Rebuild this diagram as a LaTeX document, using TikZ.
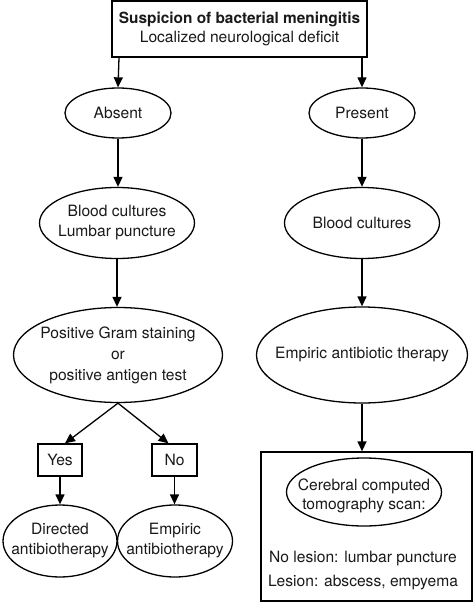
\documentclass[tikz,border=0pt]{standalone}
\usepackage{fontspec}
\setmainfont{TeX Gyre Heros}
\usetikzlibrary{shapes.geometric,arrows.meta,calc}
\begin{document}
\begin{tikzpicture}[x=1pt,y=-1pt,
  every node/.style={font=\fontsize{15.6}{20}\selectfont, text=black!90},
  ell/.style={draw, ellipse, line width=1.3pt, inner sep=0pt},
  box/.style={draw, rectangle, line width=1.3pt, inner sep=0pt},
  txt/.style={align=center, inner sep=0pt},
  arr/.style={line width=1.3pt, -{Triangle[width=9pt,length=10pt]}}
]
\useasboundingbox (0,0) rectangle (474,604);
% top box
\node[box, minimum width=255pt, minimum height=56pt] (top) at (239.5,29) {};
\node[txt, font=\fontsize{15.4}{19}\selectfont\bfseries] (t1) at (239.5,19) {Suspicion of bacterial meningitis};
\node[txt] (t2) at (239.5,38.5) {Localized neurological deficit};
% left column
\node[ell, minimum width=106pt, minimum height=50pt] (absent) at (118,113) {};
\node[txt] (absentt) at (absent.center) {Absent};
\node[ell, minimum width=155pt, minimum height=71pt] (blc) at (117,223) {};
\node[txt] (blct) at (blc.center) {Blood cultures\\Lumbar puncture};
\node[ell, minimum width=209pt, minimum height=95pt] (gram) at (118,355) {};
\node[txt, font=\fontsize{15.6}{21}\selectfont] (gramt) at (gram.center) {Positive Gram staining\\or\\positive antigen test};
\node[box, minimum width=44pt, minimum height=32pt] (yes) at (60,460) {};
\node[txt] (yest) at (yes.center) {Yes};
\node[box, minimum width=45pt, minimum height=32pt] (no) at (174.5,460) {};
\node[txt] (not) at (no.center) {No};
\node[ell, minimum width=114pt, minimum height=72pt] (dir) at (60,541) {};
\node[txt] (dirt) at (dir.center) {Directed\\antibiotherapy};
\node[ell, minimum width=115pt, minimum height=72pt] (empl) at (175,541) {};
\node[txt] (emplt) at (empl.center) {Empiric\\antibiotherapy};
% right column
\node[ell, minimum width=106pt, minimum height=50pt] (present) at (362,113) {};
\node[txt] (presentt) at (present.center) {Present};
\node[ell, minimum width=155pt, minimum height=71pt] (brc) at (362,223) {};
\node[txt] (brct) at (brc.center) {Blood cultures};
\node[ell, minimum width=211pt, minimum height=96pt] (emp) at (362,355) {};
\node[txt] (empt) at (emp.center) {Empiric antibiotic therapy};
\node[box, minimum width=211pt, minimum height=149pt] (ctbox) at (366.5,526.5) {};
\node[ell, minimum width=155pt, minimum height=68pt] (ct) at (364,492) {};
\node[txt, font=\fontsize{15.6}{18.5}\selectfont] (ctt) at (364,496) {Cerebral computed\\tomography scan:};
\node[txt, font=\fontsize{15.6}{24}\selectfont] (lesion) at (363,571) {No lesion: lumbar puncture\\Lesion: abscess, empyema};
% connectors
\draw[arr] (top.south -| 119,0) -- (absent.north);
\draw[arr] (top.south -| present.north) -- (present.north);
\draw[arr] (absent.south) -- (absent.south |- blc.north);
\draw[arr] (present.south) -- (brc.north);
\draw[arr] (blc.south) -- (blc.south |- gram.north);
\draw[arr] (brc.south) -- (emp.north);
\draw[arr] (gram.south) -- ([xshift=5pt]yes.north);
\draw[arr] (gram.south) -- ([xshift=-6pt]no.north);
\draw[arr] (yes.south) -- (dir.north);
\draw[arr] (no.south) -- (no.south |- empl.north);
\draw[arr] (emp.south) -- (emp.south |- ctbox.north);
\end{tikzpicture}
\end{document}
